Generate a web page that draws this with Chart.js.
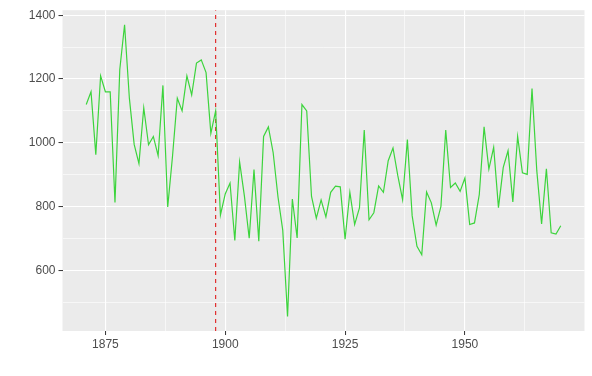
<!DOCTYPE html>
<html lang="en">
<head>
  <meta charset="UTF-8">
  <title>Nile flow</title>
  <script src="https://cdn.jsdelivr.net/npm/chart.js"></script>
  <style>
    html, body { margin: 0; padding: 0; background: #fff; }
    #wrap { width: 592px; height: 376px; }
  </style>
</head>
<body>
  <div id="wrap"><canvas id="nileChart"></canvas></div>
<script>
// annual flow, 1871 - 1970
const years = [
  1871, 1872, 1873, 1874, 1875, 1876, 1877, 1878, 1879, 1880,
  1881, 1882, 1883, 1884, 1885, 1886, 1887, 1888, 1889, 1890,
  1891, 1892, 1893, 1894, 1895, 1896, 1897, 1898, 1899, 1900,
  1901, 1902, 1903, 1904, 1905, 1906, 1907, 1908, 1909, 1910,
  1911, 1912, 1913, 1914, 1915, 1916, 1917, 1918, 1919, 1920,
  1921, 1922, 1923, 1924, 1925, 1926, 1927, 1928, 1929, 1930,
  1931, 1932, 1933, 1934, 1935, 1936, 1937, 1938, 1939, 1940,
  1941, 1942, 1943, 1944, 1945, 1946, 1947, 1948, 1949, 1950,
  1951, 1952, 1953, 1954, 1955, 1956, 1957, 1958, 1959, 1960,
  1961, 1962, 1963, 1964, 1965, 1966, 1967, 1968, 1969, 1970
];
const flow = [
  1120, 1160, 963, 1210, 1160, 1160, 813, 1230, 1370, 1140,
  995, 935, 1110, 994, 1020, 960, 1180, 799, 958, 1140,
  1100, 1210, 1150, 1250, 1260, 1220, 1030, 1100, 774, 840,
  874, 694, 940, 833, 701, 916, 692, 1020, 1050, 969,
  831, 726, 456, 824, 702, 1120, 1100, 832, 764, 821,
  768, 845, 864, 862, 698, 845, 744, 796, 1040, 759,
  781, 865, 845, 944, 984, 897, 822, 1010, 771, 676,
  649, 846, 812, 742, 801, 1040, 860, 874, 848, 890,
  744, 749, 838, 1050, 918, 986, 797, 923, 975, 815,
  1020, 906, 901, 1170, 912, 746, 919, 718, 714, 740
];
const changeYear = 1898;

const xTicks = [1875, 1900, 1925, 1950];
const xMinor = [1887.5, 1912.5, 1937.5, 1962.5];
const yTicks = [600, 800, 1000, 1200, 1400];
const yMinor = [500, 700, 900, 1100, 1300];

// ggplot style 5% expansion
const xMin = 1866.05, xMax = 1974.95;
const yMin = 410.3, yMax = 1415.7;

const points = years.map((y, i) => ({ x: y, y: flow[i] }));
const vline = [{ x: changeYear, y: yMin }, { x: changeYear, y: yMax }];

const panelBg = {
  id: 'panelBg',
  beforeDraw(chart) {
    const { ctx, chartArea: a } = chart;
    ctx.save();
    ctx.fillStyle = '#EBEBEB';
    ctx.fillRect(a.left, a.top, a.right - a.left, a.bottom - a.top);
    ctx.restore();
  }
};

function allTicks(major, minor) {
  return major.concat(minor).sort((a, b) => a - b).map(v => ({ value: v }));
}

const isMajor = (list, v) => list.includes(v);

new Chart(document.getElementById('nileChart'), {
  type: 'line',
  data: {
    datasets: [
      {
        data: points,
        borderColor: '#3CD43C',
        borderWidth: 1.2,
        pointRadius: 0,
        tension: 0
      },
      {
        data: vline,
        borderColor: '#E01E1E',
        borderWidth: 1.1,
        borderDash: [4, 4],
        pointRadius: 0
      }
    ]
  },
  options: {
    responsive: true,
    maintainAspectRatio: false,
    animation: false,
    layout: { padding: { top: 8, right: 7.5, left: 0, bottom: 0 } },
    plugins: { legend: { display: false }, tooltip: { enabled: false } },
    scales: {
      x: {
        type: 'linear',
        min: xMin,
        max: xMax,
        afterBuildTicks: s => { s.ticks = allTicks(xTicks, xMinor); },
        afterFit: s => { s.height = 45; },
        border: { display: false },
        grid: {
          color: '#FFFFFF',
          lineWidth: c => isMajor(xTicks, c.tick.value) ? 1.1 : 0.6,
          tickColor: c => isMajor(xTicks, c.tick.value) ? '#333333' : 'rgba(0,0,0,0)',
          tickLength: 4,
          tickWidth: 1
        },
        ticks: {
          autoSkip: false,
          maxRotation: 0,
          padding: 2,
          color: '#4D4D4D',
          font: { family: 'Liberation Sans', size: 12 },
          callback: v => isMajor(xTicks, v) ? String(v) : ''
        }
      },
      y: {
        min: yMin,
        max: yMax,
        afterBuildTicks: s => { s.ticks = allTicks(yTicks, yMinor); },
        afterFit: s => { s.width = 62.5; },
        border: { display: false },
        grid: {
          color: '#FFFFFF',
          lineWidth: c => isMajor(yTicks, c.tick.value) ? 1.1 : 0.6,
          tickColor: c => isMajor(yTicks, c.tick.value) ? '#333333' : 'rgba(0,0,0,0)',
          tickLength: 4,
          tickWidth: 1
        },
        ticks: {
          autoSkip: false,
          padding: 3,
          color: '#4D4D4D',
          font: { family: 'Liberation Sans', size: 12 },
          callback: v => isMajor(yTicks, v) ? String(v) : ''
        }
      }
    }
  },
  plugins: [panelBg]
});
</script>
</body>
</html>
